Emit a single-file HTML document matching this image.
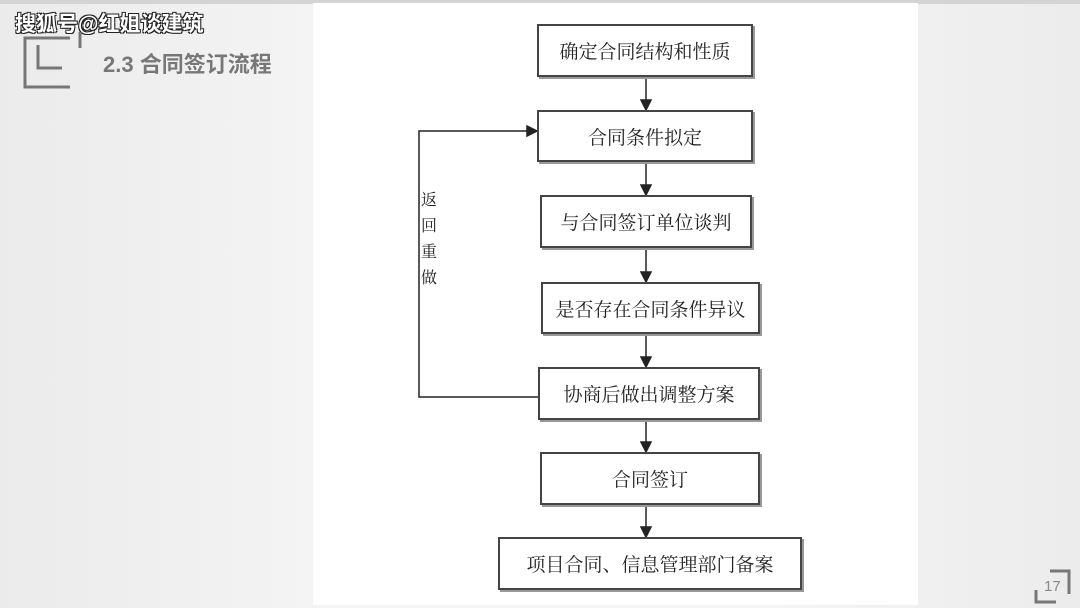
<!DOCTYPE html>
<html><head><meta charset="utf-8"><style>
body{margin:0;width:1080px;height:608px;overflow:hidden;background:linear-gradient(90deg,#ebebeb,#f4f4f4 30%,#f4f4f4 70%,#ececec);font-family:"Liberation Sans","Noto Sans CJK SC",sans-serif;position:relative}
.panel{position:absolute;left:313px;top:3px;width:605px;height:602px;background:#fff}
.b{position:absolute;border:2px solid #444;background:#fff;box-shadow:2px 2px 0 #999;display:flex;align-items:center;justify-content:center;font-family:"Noto Serif CJK SC","Noto Sans CJK SC",serif;font-size:19px;color:#222;box-sizing:border-box}
</style></head><body>
<div style="position:absolute;left:0;top:0;width:1080px;height:4px;background:#d4d4d4"></div>
<div class="panel"></div>
<div style="position:absolute;left:15px;top:8px;font-size:21px;font-weight:bold;color:#fff;text-shadow:1px 1px 0 #222,-1px -1px 0 #222,1px -1px 0 #222,-1px 1px 0 #222">搜狐号@红姐谈建筑</div>
<svg style="position:absolute;left:0;top:0" width="1080" height="608">
<g stroke="#777" stroke-width="3" fill="none">
<path d="M70 38 H25 V87 H70"/><path d="M38 45 V68 H62"/><path d="M80 32 V48"/>
<path d="M1036 590 V602 H1056"/><path d="M1050 571 H1069 V594"/>
</g>
<g stroke="#222" stroke-width="1.5" fill="#222">
<line x1="646" y1="78" x2="646" y2="102"/><path d="M641 100 L646 110 L651 100Z"/>
<line x1="646" y1="163" x2="646" y2="187"/><path d="M641 185 L646 195 L651 185Z"/>
<line x1="646" y1="249" x2="646" y2="274"/><path d="M641 272 L646 282 L651 272Z"/>
<line x1="646" y1="335" x2="646" y2="359"/><path d="M641 357 L646 367 L651 357Z"/>
<line x1="646" y1="421" x2="646" y2="444"/><path d="M641 442 L646 452 L651 442Z"/>
<line x1="646" y1="506" x2="646" y2="529"/><path d="M641 527 L646 537 L651 527Z"/>
<path d="M538 397 H419 V131 H528" fill="none"/><path d="M527 126 L537 131 L527 136Z"/>
</g>
<text x="1044" y="591" font-size="15" fill="#888" font-family="Liberation Sans">17</text>
</svg>
<div style="position:absolute;left:103px;top:47px;font-size:22px;font-weight:bold;color:#777">2.3 合同签订流程</div>
<div style="position:absolute;left:421px;top:186px;width:18px;font-size:16px;line-height:26px;color:#222;font-family:'Noto Serif CJK SC',serif">返回重做</div>
<div class="b" style="left:537px;top:24px;width:216px;height:53px">确定合同结构和性质</div>
<div class="b" style="left:537px;top:110px;width:216px;height:52px">合同条件拟定</div>
<div class="b" style="left:540px;top:195px;width:212px;height:53px">与合同签订单位谈判</div>
<div class="b" style="left:541px;top:282px;width:219px;height:52px">是否存在合同条件异议</div>
<div class="b" style="left:538px;top:367px;width:222px;height:53px">协商后做出调整方案</div>
<div class="b" style="left:540px;top:452px;width:220px;height:53px">合同签订</div>
<div class="b" style="left:498px;top:537px;width:304px;height:53px">项目合同、信息管理部门备案</div>
</body></html>
